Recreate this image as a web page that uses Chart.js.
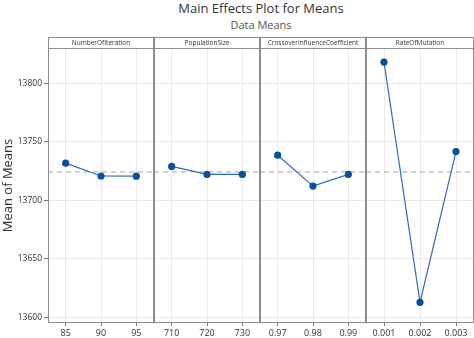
<!DOCTYPE html>
<html lang="en">
<head>
<meta charset="UTF-8" />
<title>Main Effects Plot for Means</title>
<script src="https://cdn.jsdelivr.net/npm/chart.js"></script>
<style>
body { margin: 0; background: #fff; font-family: 'Open Sans', sans-serif; }
.wrap { position: relative; width: 474px; height: 338px; overflow: hidden; }
.title { position: absolute; left: 48px; width: 426px; top: -1px; text-align: center; font-size: 13px; color: #333; }
.subtitle { position: absolute; left: 48px; width: 426px; top: 17px; text-align: center; font-size: 11px; color: #555; }
.panel { position: absolute; top: 37px; height: 301px; }
</style>
</head>
<body>
<div class="wrap">
    <div class="title">Main Effects Plot for Means</div>
    <div class="subtitle">Data Means</div>
    <div class="panel" style="left:0;width:154px"><canvas id="p0"></canvas></div>
    <div class="panel" style="left:154px;width:106px"><canvas id="p1"></canvas></div>
    <div class="panel" style="left:260px;width:106px"><canvas id="p2"></canvas></div>
    <div class="panel" style="left:366px;width:108px"><canvas id="p3"></canvas></div>
</div>
<script>
// factor levels and the mean response at each level
const factorNames = ['NumberOfIteration', 'PopulationSize', 'CrossoverInfluenceCoefficient', 'RateOfMutation'];
const iterLevels = [85, 90, 95];
const iterMeans = [13731.6, 13720.6, 13720.5];
const popLevels = [710, 720, 730];
const popMeans = [13728.8, 13722.0, 13722.0];
const crossLevels = [0.97, 0.98, 0.99];
const crossMeans = [13738.4, 13712.0, 13722.0];
const mutLevels = [0.001, 0.002, 0.003];
const mutMeans = [13818.0, 13612.7, 13741.5];
const levelLabels = [
    ['85', '90', '95'],
    ['710', '720', '730'],
    ['0.97', '0.98', '0.99'],
    ['0.001', '0.002', '0.003']
];
const grandMean = 13724.1;
const yTicks = [13600, 13650, 13700, 13750, 13800];
const yMin = 13595, yMax = 13830;

const FONT = "'Open Sans', sans-serif";

// strip header above each panel plus the panel frame
const panelFrame = {
    id: 'panelFrame',
    afterDraw(chart, args, opts) {
        const { ctx, chartArea: a } = chart;
        ctx.save();
        ctx.fillStyle = '#fff';
        ctx.fillRect(a.left, a.top - 11, a.right - a.left, 11);
        ctx.strokeStyle = '#8c8c8c';
        ctx.lineWidth = 1;
        ctx.strokeRect(a.left + 0.5, a.top - 10.5, a.right - a.left - 1, 11);
        ctx.strokeRect(a.left + 0.5, a.top + 0.5, a.right - a.left - 1, a.bottom - a.top - 1);
        ctx.fillStyle = '#333';
        ctx.font = '6.5px ' + FONT;
        ctx.textAlign = 'center';
        ctx.textBaseline = 'middle';
        ctx.fillText(opts.label, (a.left + a.right) / 2, a.top - 5);
        ctx.restore();
    }
};

function makePanel(id, idx, levels, means) {
    const step = levels[1] - levels[0];
    const xMin = levels[0] - step / 2, xMax = levels[levels.length - 1] + step / 2;
    const first = idx === 0;
    new Chart(document.getElementById(id), {
        type: 'line',
        data: {
            datasets: [{
                data: [{ x: xMin, y: grandMean }, { x: xMax, y: grandMean }],
                borderColor: '#a6a6a6',
                borderWidth: 1,
                borderDash: [5, 4],
                pointRadius: 0,
                order: 2
            }, {
                data: levels.map((v, i) => ({ x: v, y: means[i] })),
                borderColor: '#2f6cb8',
                borderWidth: 1.2,
                pointRadius: 3,
                pointBackgroundColor: '#0b4f9f',
                pointBorderColor: '#0b4f9f',
                order: 1
            }]
        },
        options: {
            responsive: true,
            maintainAspectRatio: false,
            animation: false,
            layout: { autoPadding: false, padding: { top: 11, left: 0, right: 0, bottom: 0 } },
            plugins: {
                legend: { display: false },
                tooltip: { enabled: false },
                panelFrame: { label: factorNames[idx] }
            },
            scales: {
                x: {
                    type: 'linear',
                    min: xMin,
                    max: xMax,
                    afterBuildTicks: s => { s.ticks = levels.map(v => ({ value: v })); },
                    afterFit: s => { s.height = 15; s.paddingLeft = 0; s.paddingRight = 0; },
                    grid: { color: '#eaeaea', tickColor: '#777', tickLength: 3 },
                    border: { display: false },
                    ticks: {
                        padding: 2,
                        maxRotation: 0,
                        autoSkip: false,
                        color: '#333',
                        font: { family: FONT, size: 9 },
                        callback: (v, i) => levelLabels[idx][i]
                    }
                },
                y: {
                    min: yMin,
                    max: yMax,
                    afterBuildTicks: s => { s.ticks = yTicks.map(v => ({ value: v })); },
                    afterFit: s => { s.width = first ? 48 : 0; s.paddingTop = 0; s.paddingBottom = 0; },
                    grid: { color: '#eaeaea', tickColor: '#777', tickLength: 4, drawTicks: first },
                    border: { display: false },
                    ticks: {
                        display: first,
                        padding: 2,
                        color: '#333',
                        font: { family: FONT, size: 8.5 },
                        callback: v => String(v)
                    },
                    title: {
                        display: first,
                        text: 'Mean of Means',
                        color: '#333',
                        font: { family: FONT, size: 13 },
                        padding: { top: 0, bottom: 0 }
                    }
                }
            }
        },
        plugins: [panelFrame]
    });
}

makePanel('p0', 0, iterLevels, iterMeans);
makePanel('p1', 1, popLevels, popMeans);
makePanel('p2', 2, crossLevels, crossMeans);
makePanel('p3', 3, mutLevels, mutMeans);
</script>
</body>
</html>
